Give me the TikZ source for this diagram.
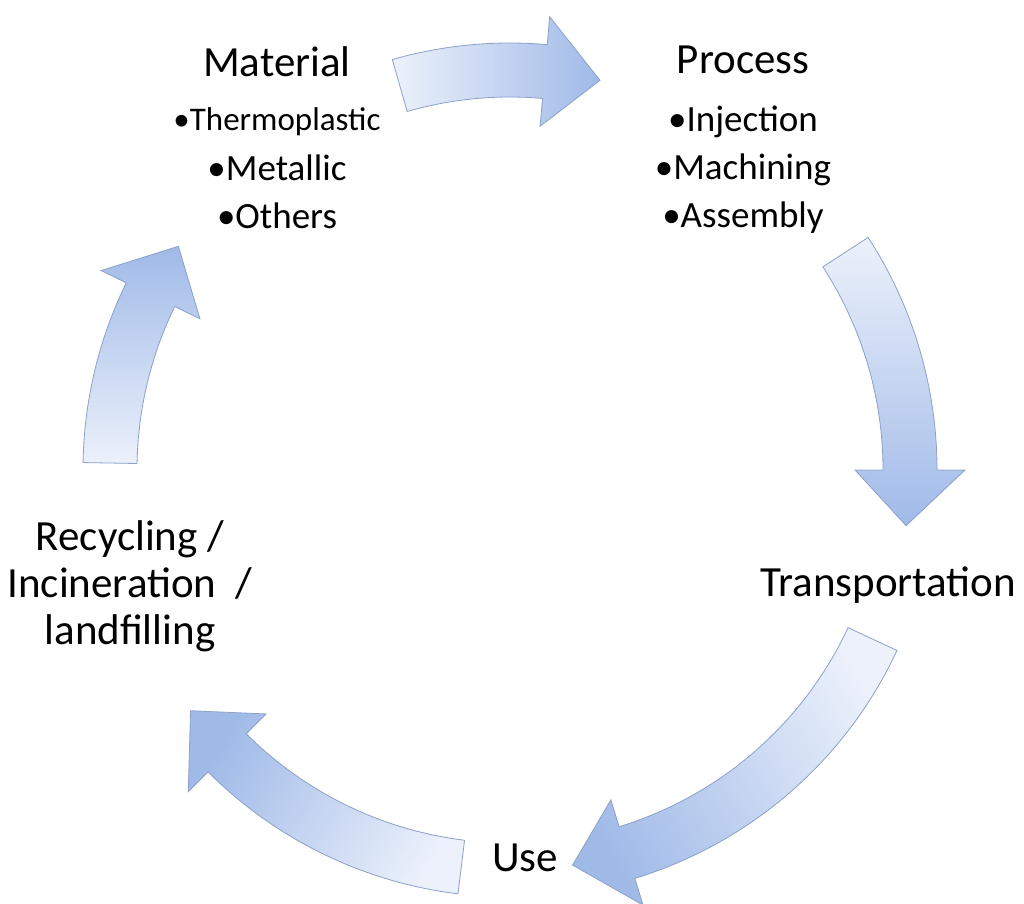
\documentclass[tikz,border=0pt]{standalone}
\usepackage{fontspec}
\setmainfont{Carlito}
\begin{document}
\begin{tikzpicture}[x=1pt,y=-1pt,
  arr/.style={draw={rgb,255:red,140;green,160;blue,200},line width=0.8pt,
    top color={rgb,255:red,236;green,241;blue,251},bottom color={rgb,255:red,160;green,186;blue,232}},
  lbl/.style={font=\fontsize{43}{47}\selectfont,align=center,text=black,inner sep=0pt},
  itm/.style={font=\fontsize{37}{42}\selectfont,text=black,inner sep=0pt}]
\useasboundingbox (0,0) rectangle (1024,903);
\coordinate (C) at (510,470);
\newcommand{\cyc}[3]{% start, end, shading angle
  \pgfmathsetmacro{\hb}{#2-(#2>#1?8:-8)}
  \path[arr,shading angle=#3] ([shift={(C)}]#1:427) arc[start angle=#1,end angle=\hb,radius=427]
   -- ([shift={(C)}]\hb:455) -- ([shift={(C)}]#2:400) -- ([shift={(C)}]\hb:345)
   -- ([shift={(C)}]\hb:373) arc[start angle=\hb,end angle=#1,radius=373] -- cycle;}
\cyc{-106}{-77}{90}
\cyc{-33}{8}{0}
\cyc{25}{81}{-60}
\cyc{97}{143}{-120}
\cyc{181}{214}{180}
\node[lbl] (mat) at (277,62) {Material};
\node[itm,font=\fontsize{33}{38}\selectfont] (m1) at (277,122) {•Thermoplastic};
\node[itm] (m2) at (277,168) {•Metallic};
\node[itm] (m3) at (277,216) {•Others};
\node[lbl] (pro) at (743,60) {Process};
\node[itm] (p1) at (743,122) {•Injection};
\node[itm] (p2) at (743,170) {•Machining};
\node[itm] (p3) at (743,218) {•Assembly};
\node[lbl] (tra) at (888,585) {Transportation};
\node[lbl] (use) at (525,858) {Use};
\node[lbl,align=center] (rec) at (130,586) {Recycling /\\Incineration~~/\\landfilling};
\end{tikzpicture}
\end{document}
